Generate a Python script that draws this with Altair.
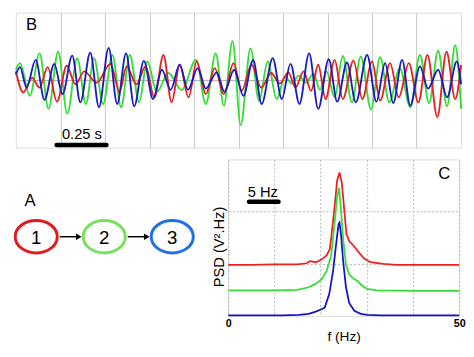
import altair as alt
import pandas as pd

# ---------------- Panel B : three oscillating traces (time in s, amplitude a.u.) ----------------
b_red_t = [0.000, 0.038, 0.082, 0.120, 0.161, 0.208, 0.257, 0.301, 0.346, 0.408,
           0.478, 0.524, 0.560, 0.609, 0.656, 0.700, 0.746, 0.787, 0.828, 0.873,
           0.914, 0.960, 1.005, 1.051, 1.100, 1.141, 1.191, 1.240, 1.290, 1.334,
           1.377, 1.413, 1.454, 1.492, 1.528, 1.565, 1.611, 1.652, 1.706, 1.751,
           1.800, 1.841, 1.891, 1.935, 1.986, 2.034, 2.080, 2.130, 2.176, 2.220, 2.250]
b_red_v = [0.27, -0.38, 0.07, -0.23, 0.40, -0.66, 0.44, -0.13, 0.27, -0.08,
           0.50, -0.36, 0.42, -0.13, 0.42, -0.53, 0.77, -0.68, 0.47, -0.53,
           0.57, -0.43, 0.37, -0.43, 0.52, -0.33, 0.47, -0.23, 0.22, -0.10,
           0.24, -0.23, 0.27, -0.33, 0.47, -0.58, 0.62, -0.58, 0.60, -0.58,
           0.57, -0.63, 0.52, -0.53, 0.52, -0.68, 0.77, -1.13, 0.87, -0.58, 0.47]

b_green_t = [0.000, 0.021, 0.071, 0.120, 0.165, 0.214, 0.260, 0.310, 0.354, 0.395,
             0.441, 0.488, 0.532, 0.576, 0.623, 0.664, 0.713, 0.771, 0.837, 0.911,
             0.960, 1.010, 1.051, 1.095, 1.136, 1.186, 1.229, 1.273, 1.318, 1.360,
             1.393, 1.430, 1.466, 1.504, 1.537, 1.570, 1.611, 1.652, 1.698, 1.743,
             1.795, 1.841, 1.887, 1.940, 1.993, 2.042, 2.088, 2.134, 2.179, 2.220, 2.250]
b_green_v = [0.32, 0.52, -0.48, 0.82, -0.88, 0.87, -1.03, 0.67, -0.73, 0.67,
             -0.73, 0.77, -0.83, 0.77, -0.68, 0.57, -0.36, 0.22, -0.30, 0.62,
             -0.73, 0.82, -0.78, 1.20, -1.38, 0.97, -0.63, 0.57, -0.58, 0.10,
             -0.10, 0.14, -0.08, 0.20, -0.30, 0.27, -0.53, 0.74, -0.68, 0.72,
             -0.90, 0.70, -0.68, 0.37, -0.83, 0.77, -0.70, 0.90, -0.80, 1.07, -0.88]

b_blue_t = [0.000, 0.021, 0.054, 0.100, 0.145, 0.194, 0.236, 0.285, 0.326, 0.376,
            0.420, 0.469, 0.512, 0.557, 0.598, 0.647, 0.693, 0.738, 0.782, 0.828,
            0.870, 0.919, 0.960, 1.015, 1.054, 1.103, 1.150, 1.199, 1.242, 1.298,
            1.344, 1.388, 1.433, 1.482, 1.528, 1.581, 1.624, 1.673, 1.718, 1.775,
            1.822, 1.866, 1.907, 1.952, 1.993, 2.042, 2.083, 2.134, 2.179, 2.228, 2.250]
b_blue_v = [0.17, 0.40, -0.23, 0.62, -0.60, 0.50, -0.43, 0.75, -0.68, 0.84,
            -0.83, 0.99, -0.73, 0.82, -0.80, 0.59, -0.58, 0.32, -0.30, 0.47,
            -0.30, 0.37, -0.26, 0.24, -0.36, 0.32, -0.48, 0.62, -0.73, 0.67,
            -0.58, 0.50, -0.73, 0.82, -0.88, 0.64, -0.66, 0.54, -0.68, 0.77,
            -0.66, 0.52, -0.70, 0.62, -0.78, 0.42, -0.26, 0.32, -0.53, 0.57, -0.13]

b_grid_t = [0.225, 0.45, 0.675, 0.9, 1.125, 1.35, 1.575, 1.8, 2.025]
b_bar_t = [0.206, 0.458]      # "0.25 s" scale bar
b_bar_v = -1.99

# ---------------- Panel C : power spectral densities ----------------
psd_red_f = [0, 5, 10, 15, 17.0, 17.7, 19.0, 20.2, 21.3, 22.0, 22.3, 23.0, 23.6, 24.1, 24.6,
             25.1, 25.6, 26.2, 26.9, 28.0, 29.4, 30.8, 33.6, 36.4, 40, 45, 50]
psd_red = [0.98, 0.98, 0.99, 0.99, 1.01, 1.05, 1.03, 1.08, 1.16, 1.28, 1.50, 2.06, 2.60, 2.75, 2.55,
           2.06, 1.57, 1.43, 1.37, 1.25, 1.10, 1.03, 1.00, 0.98, 0.98, 0.98, 0.98]

psd_green_f = [0, 5, 10, 15, 17.4, 18.8, 20.2, 21.3, 22.3, 23.0, 23.6, 24.0, 24.4, 24.9,
               25.5, 26.2, 26.9, 28.0, 29.0, 30.1, 32.2, 40, 50]
psd_green = [0.49, 0.49, 0.49, 0.50, 0.55, 0.61, 0.70, 0.86, 1.16, 1.76, 2.30, 2.45, 2.06, 1.46,
             0.98, 0.80, 0.73, 0.67, 0.58, 0.52, 0.49, 0.48, 0.48]

psd_blue_f = [0, 5, 11.7, 15.3, 17.4, 18.8, 20.2, 20.9, 21.9, 22.7, 23.4, 23.9, 24.1, 24.4,
              24.9, 25.5, 26.2, 27.3, 28.7, 30.1, 33, 40, 50]
psd_blue = [0.01, 0.01, 0.01, 0.02, 0.04, 0.08, 0.13, 0.16, 0.43, 0.86, 1.40, 1.76, 1.79, 1.58,
            1.04, 0.55, 0.25, 0.10, 0.04, 0.02, 0.01, 0.01, 0.01]

c_bar_f = [4.5, 10.9]        # "5 Hz" scale bar
c_bar_v = 2.19

# ---------------- Panel A : diagram ----------------
node_ids = [1, 2, 3]
node_labels = ["1", "2", "3"]
edge_src = [1, 2]
edge_dst = [2, 3]

FONT = "Liberation Sans"
B_COLORS = {"red": "#e5221f", "green": "#33dd33", "blue": "#1c1cc0"}
C_COLORS = {"red": "#ee2020", "green": "#33dd33", "blue": "#1414cc"}
A_COLORS = ["#e3191b", "#78e05c", "#1f6fe8"]

# ---------- Panel B ----------
xB = alt.X("t:Q", scale=alt.Scale(domain=[0, 2.25], nice=False, zero=False),
           axis=alt.Axis(title=None, labels=False, ticks=False, domain=False, grid=True,
                         values=b_grid_t, gridColor="#c8c8c8", gridWidth=1))
yB = alt.Y("v:Q", scale=alt.Scale(domain=[-2.07, 2.07], nice=False, zero=False),
           axis=alt.Axis(title=None, labels=False, ticks=False, domain=False, grid=True,
                         values=[0], gridColor="#a8a8a8", gridWidth=1))


def b_trace(t, v, color):
    df = pd.DataFrame({"t": t, "v": v})
    return alt.Chart(df).mark_line(color=color, strokeWidth=1.9, interpolate="monotone").encode(x=xB, y=yB)


b_bar = alt.Chart(pd.DataFrame({"t": [b_bar_t[0]], "t2": [b_bar_t[1]], "v": [b_bar_v]})).mark_rule(
    color="black", strokeWidth=4.5, strokeCap="round").encode(x=alt.X("t:Q"), x2="t2:Q", y="v:Q")
b_bar_txt = alt.Chart(pd.DataFrame({"t": [0.334], "v": [-1.66], "s": ["0.25 s"]})).mark_text(
    font=FONT, fontSize=15, color="black").encode(x="t:Q", y="v:Q", text="s:N")
b_lab = alt.Chart(pd.DataFrame({"t": [0.079], "v": [1.68], "s": ["B"]})).mark_text(
    font=FONT, fontSize=17, color="black").encode(x="t:Q", y="v:Q", text="s:N")

panelB = alt.layer(
    b_trace(b_green_t, b_green_v, B_COLORS["green"]),
    b_trace(b_red_t, b_red_v, B_COLORS["red"]),
    b_trace(b_blue_t, b_blue_v, B_COLORS["blue"]),
    b_bar, b_bar_txt, b_lab,
).properties(width=455, height=138)

# ---------- Panel A ----------
ELLIPSE = "M -1 0 A 1 0.77 0 1 1 1 0 A 1 0.77 0 1 1 -1 0 Z"
A_DOMAIN = [0.70, 3.434]
xA = alt.X("node:Q", scale=alt.Scale(domain=A_DOMAIN, nice=False, zero=False), axis=None)
nodes = pd.DataFrame({"node": node_ids, "label": node_labels})
edges = pd.DataFrame({"node": edge_src, "target": edge_dst})
A_Y = 79

a_ell = alt.Chart(nodes).mark_point(shape=ELLIPSE, size=1849, filled=False, strokeWidth=3, opacity=1).encode(
    x=xA, y=alt.value(A_Y),
    color=alt.Color("label:N", scale=alt.Scale(domain=node_labels, range=A_COLORS), legend=None))
a_num = alt.Chart(nodes).mark_text(font=FONT, fontSize=19, color="black").encode(
    x=xA, y=alt.value(A_Y + 1), text="label:N")
a_line = alt.Chart(edges).mark_rule(color="black", strokeWidth=1.5, xOffset=24, x2Offset=-27).encode(
    x=xA, x2="target:Q", y=alt.value(A_Y))
a_head = alt.Chart(edges).mark_point(shape="triangle-right", filled=True, size=45, color="black",
                                     opacity=1, xOffset=-26).encode(
    x=alt.X("target:Q", scale=alt.Scale(domain=A_DOMAIN, nice=False, zero=False), axis=None),
    y=alt.value(A_Y))
a_lab = alt.Chart(pd.DataFrame({"s": ["A"]})).mark_text(font=FONT, fontSize=17, color="black").encode(
    x=alt.value(14.5), y=alt.value(43), text="s:N")

panelA = alt.layer(a_line, a_head, a_ell, a_num, a_lab).properties(
    width=190, height=160, view=alt.ViewBackground(stroke="transparent"))

# ---------- Panel C ----------
xC = alt.X("f:Q", scale=alt.Scale(domain=[0, 50], nice=False, zero=False),
           axis=alt.Axis(values=list(range(0, 51, 5)),
                         labelExpr="datum.value % 25 === 0 ? datum.label : ''",
                         ticks=False, domain=False, grid=True, gridDash=[2, 2],
                         gridColor="#b4b4b4", labelFont=FONT, labelFontSize=11,
                         labelFontWeight="bold", labelColor="black", labelPadding=2,
                         labelFlush=False, title="f (Hz)", titleFont=FONT, titleFontSize=14,
                         titleFontWeight="normal", titleColor="black", titlePadding=1))
yC = alt.Y("p:Q", scale=alt.Scale(domain=[0, 3], nice=False, zero=False),
           axis=alt.Axis(values=[1, 2], labels=False, ticks=False, domain=False, grid=True,
                         gridDash=[2, 2], gridColor="#b4b4b4", title="PSD (V².Hz)",
                         titleFont=FONT, titleFontSize=15, titleFontWeight="normal",
                         titleColor="black", titlePadding=2, titleY=89))


def c_trace(f, p, color):
    df = pd.DataFrame({"f": f, "p": p})
    return alt.Chart(df).mark_line(color=color, strokeWidth=1.8).encode(x=xC, y=yC)


c_bar = alt.Chart(pd.DataFrame({"f": [c_bar_f[0]], "f2": [c_bar_f[1]], "p": [c_bar_v]})).mark_rule(
    color="black", strokeWidth=4.5, strokeCap="round").encode(x="f:Q", x2="f2:Q", y="p:Q")
c_bar_txt = alt.Chart(pd.DataFrame({"f": [7.5], "p": [2.37], "s": ["5 Hz"]})).mark_text(
    font=FONT, fontSize=15, color="black").encode(x="f:Q", y="p:Q", text="s:N")
c_lab = alt.Chart(pd.DataFrame({"f": [46.8], "p": [2.71], "s": ["C"]})).mark_text(
    font=FONT, fontSize=17, color="black").encode(x="f:Q", y="p:Q", text="s:N")

panelC = alt.layer(
    c_trace(psd_red_f, psd_red, C_COLORS["red"]),
    c_trace(psd_green_f, psd_green, C_COLORS["green"]),
    c_trace(psd_blue_f, psd_blue, C_COLORS["blue"]),
    c_bar, c_bar_txt, c_lab,
).properties(width=236, height=160)

chart = alt.vconcat(
    panelB,
    alt.hconcat(panelA, panelC, spacing=8),
    spacing=10,
    padding=0,
).configure_view(stroke="#999999", strokeWidth=1).configure(background="white")

chart.save("out.html", embed_options={"renderer": "svg", "actions": False})
